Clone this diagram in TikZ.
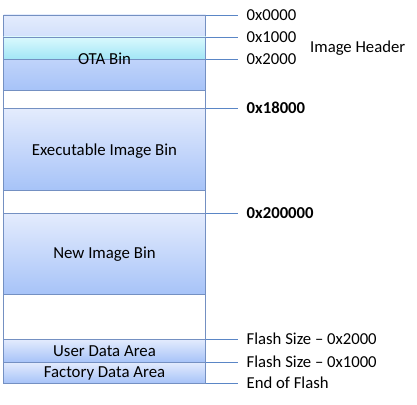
\documentclass[tikz,border=0pt]{standalone}
\usepackage{fontspec}
\setmainfont{Carlito}
\usetikzlibrary{shadows}
\definecolor{edge}{HTML}{7490C2}
\definecolor{tickc}{HTML}{5A86C6}
\definecolor{btop}{HTML}{E4ECFD}
\definecolor{bbot}{HTML}{A7C3F8}
\definecolor{ctop}{HTML}{DAF9FD}
\definecolor{cbot}{HTML}{A2E6F6}
\tikzset{
  blk/.style={draw=edge, line width=0.9pt, minimum width=202pt, inner sep=0pt, outer sep=0pt},
  bluebox/.style={blk, top color=btop, bottom color=bbot, drop shadow={shadow xshift=0.8pt, shadow yshift=-1.2pt, opacity=0.35}},
  cyanbox/.style={blk, top color=ctop, bottom color=cbot},
  whitebox/.style={blk, fill=white},
  tick/.style={draw=tickc, line width=0.9pt},
  lbl/.style={anchor=west, inner xsep=9pt, inner ysep=0pt, font=\fontsize{16.7}{18}\selectfont},
  txt/.style={font=\fontsize{16.8}{18}\selectfont, inner sep=0pt}
}
\begin{document}
\begin{tikzpicture}[x=1pt,y=-1pt]
\useasboundingbox (0,0) rectangle (417,404);
% white blocks
\node[whitebox, minimum height=18pt] (w1) at (104.5,99) {};
\node[whitebox, minimum height=23pt] (w2) at (104.5,201.5) {};
\node[whitebox, minimum height=45pt] (w3) at (104.5,316.5) {};
% blue blocks
\node[bluebox, minimum height=75pt] (ota) at (104.5,52.5) {};
\node[cyanbox, minimum height=22pt] (hdr) at (104.5,48) {};
\node[bluebox, minimum height=82pt] (exe) at (104.5,149) {};
\node[bluebox, minimum height=81pt] (new) at (104.5,253.5) {};
\node[bluebox, minimum height=23pt] (usr) at (104.5,350.5) {};
\node[bluebox, minimum height=21pt] (fac) at (104.5,372.5) {};
% block texts
\node[txt] (tota) at (104.5,59) {OTA Bin};
\node[txt] (texe) at (104.5,151) {Executable Image Bin};
\node[txt] (tnew) at (104.5,254) {New Image Bin};
\node[txt] (tusr) at (104.5,351.5) {User Data Area};
\node[txt] (tfac) at (104.5,373) {Factory Data Area};
% address labels
\node[lbl] (a0) at ([xshift=32pt]ota.north east) {0x0000};
\node[lbl] (a1) at ([xshift=32pt]hdr.north east) {0x1000};
\node[lbl] (a2) at ([xshift=32pt]hdr.south east) {0x2000};
\node[lbl] (a3) at ([xshift=32pt]exe.north east) {\bfseries 0x18000};
\node[lbl] (a4) at ([xshift=32pt]new.north east) {\bfseries 0x200000};
\node[lbl] (a5) at ([xshift=32pt]usr.north east) {Flash Size -- 0x2000};
\node[lbl] (a6) at ([xshift=32pt]fac.north east) {Flash Size -- 0x1000};
\node[lbl] (a7) at ([xshift=32pt]fac.south east) {End of Flash};
\node[txt, anchor=west, font=\fontsize{16.7}{18}\selectfont] (ih) at (310,48) {Image Header};
% ticks
\draw[tick] (ota.north east) -- (a0.west);
\draw[tick] (hdr.north east) -- (a1.west);
\draw[tick] (hdr.south east) -- (a2.west);
\draw[tick] (exe.north east) -- (a3.west);
\draw[tick] (new.north east) -- (a4.west);
\draw[tick] (usr.north east) -- (a5.west);
\draw[tick] (fac.north east) -- (a6.west);
\draw[tick] (fac.south east) -- (a7.west);
\end{tikzpicture}
\end{document}
